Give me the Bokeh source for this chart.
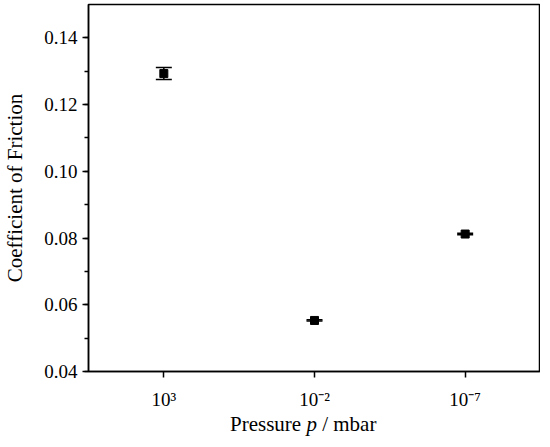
from bokeh.plotting import figure
from bokeh.models import (
    ColumnDataSource, Whisker, TeeHead, FixedTicker,
    SingleIntervalTicker, PrintfTickFormatter, Range1d, Div
)
from bokeh.layouts import column
from bokeh.embed import file_html
from bokeh.resources import INLINE

# ---------------------------- data ----------------------------
pressure_labels = ["10³", "10⁻²", "10⁻⁷"]
positions = [1, 2, 3]
cof = [0.1293, 0.0553, 0.0812]
cof_err = [0.0018, 0.0002, 0.0002]

FONT = "Liberation Serif"

source = ColumnDataSource(dict(
    x=positions,
    y=cof,
    lower=[v - e for v, e in zip(cof, cof_err)],
    upper=[v + e for v, e in zip(cof, cof_err)],
))

# --------------------------- figure ---------------------------
p = figure(
    width=540, height=412,
    x_range=Range1d(0.5, 3.5),
    y_range=Range1d(0.04, 0.15),
    toolbar_location=None,
    output_backend="svg",
    min_border_left=84, min_border_right=0,
    min_border_top=4, min_border_bottom=38,
)

err = Whisker(
    source=source, base="x", lower="lower", upper="upper",
    dimension="height", line_color="black", line_width=1.5,
    upper_head=TeeHead(size=16, line_color="black", line_width=1.5),
    lower_head=TeeHead(size=16, line_color="black", line_width=1.5),
)
p.add_layout(err)
p.scatter("x", "y", source=source, marker="square", size=8,
          color="black")

# --------------------------- styling --------------------------
p.xgrid.grid_line_color = None
p.ygrid.grid_line_color = None
p.outline_line_color = "black"
p.outline_line_width = 1.5
p.background_fill_color = "white"
p.border_fill_color = "white"

p.xaxis.ticker = FixedTicker(ticks=positions, minor_ticks=[])
p.xaxis.major_label_overrides = {k: v for k, v in zip(positions, pressure_labels)}
p.yaxis.ticker = SingleIntervalTicker(interval=0.02, num_minor_ticks=2)
p.yaxis.formatter = PrintfTickFormatter(format="%.2f")

for ax in (p.xaxis, p.yaxis):
    ax.axis_line_color = "black"
    ax.axis_line_width = 1.5
    ax.major_tick_line_color = "black"
    ax.major_tick_line_width = 1.5
    ax.minor_tick_line_color = "black"
    ax.minor_tick_line_width = 1.5
    ax.major_tick_in = 0
    ax.major_tick_out = 6
    ax.minor_tick_in = 0
    ax.minor_tick_out = 4
    ax.major_label_text_font = FONT
    ax.major_label_text_font_size = "19px"
    ax.major_label_text_color = "black"
    ax.axis_label_text_font = FONT
    ax.axis_label_text_font_size = "21px"
    ax.axis_label_text_font_style = "normal"
    ax.axis_label_text_color = "black"

p.yaxis.axis_label = "Coefficient of Friction"
p.yaxis.axis_label_standoff = 14
p.xaxis.major_label_standoff = 11

# x label below the figure, with an italic p
xlabel = Div(
    text=("<div style=\"margin-left:230px;font-family:'Liberation Serif',serif;"
          "font-size:21px;line-height:24px;color:black;white-space:nowrap\">"
          "Pressure <i>p</i> / mbar</div>"),
    width=540, height=24, margin=(0, 0, 0, 0),
)

layout = column(p, xlabel, spacing=0)

open("out.html", "w").write(file_html(layout, INLINE))
